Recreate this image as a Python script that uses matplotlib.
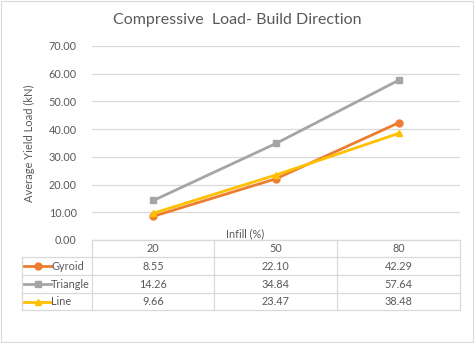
import matplotlib
matplotlib.use("Agg")
import matplotlib.pyplot as plt
from matplotlib.lines import Line2D
from matplotlib.patches import Rectangle

categories = ["20", "50", "80"]
series_names = ["Gyroid", "Triangle", "Line"]
gyroid = [8.55, 22.10, 42.29]
triangle = [14.26, 34.84, 57.64]
line = [9.66, 23.47, 38.48]
yticks = [0, 10, 20, 30, 40, 50, 60, 70]

colors = ["#ED7D31", "#A5A5A5", "#FFC000"]
markers = ["o", "s", "^"]
values = [gyroid, triangle, line]

plt.rcParams['font.family'] = ['Lato', 'DejaVu Sans']
txt = "#595959"
grid = "#D9D9D9"

W, H = 474, 343
fig = plt.figure(figsize=(W / 100, H / 100), dpi=100)
fig.patch.set_facecolor("white")

def fx(px): return px / W
def fy(py): return 1 - py / H

L, R, T, B = 92, 460, 46, 240
ax = fig.add_axes([fx(L), fy(B), fx(R) - fx(L), fy(T) - fy(B)])
x = list(range(len(categories)))
for v, c, m, n in zip(values, colors, markers, series_names):
    ax.plot(x, v, color=c, marker=m, markersize=5, linewidth=2.0, label=n,
            solid_capstyle="round", zorder=3)
ax.set_xlim(-0.5, len(categories) - 0.5)
ax.set_ylim(0, 70)
ax.set_yticks(yticks)
ax.set_yticklabels([f"{t:.2f}" for t in yticks], color=txt, fontsize=7.8)
ax.tick_params(axis="y", length=0, pad=11)
ax.set_xticks([])
ax.grid(axis="y", color=grid, linewidth=0.9)
ax.set_axisbelow(True)
for s in ax.spines.values():
    s.set_visible(False)
ax.set_ylabel("Average Yield Load (kN)", color=txt, fontsize=8, labelpad=10)

fig.text(fx(237), fy(20), "Compressive  Load- Build Direction", ha="center",
         va="center", fontsize=11.5, color=txt)
fig.text(fx(245), fy(234), "Infill (%)", ha="center", va="center",
         fontsize=7.8, color=txt)

# Table
col_x = [92, 214, 337, 460]
row_y = [240, 257, 275, 293, 310]
lc = "#D9D9D9"
lw = 0.9
fig.add_artist(Line2D([fx(92), fx(460)], [fy(240), fy(240)], color=lc, lw=lw))
for yy in row_y[1:]:
    fig.add_artist(Line2D([fx(22), fx(460)], [fy(yy), fy(yy)], color=lc, lw=lw))
for xx in col_x:
    fig.add_artist(Line2D([fx(xx), fx(xx)], [fy(240), fy(310)], color=lc, lw=lw))
fig.add_artist(Line2D([fx(22), fx(22)], [fy(257), fy(310)], color=lc, lw=lw))

for i, cat in enumerate(categories):
    cx = (col_x[i] + col_x[i + 1]) / 2
    fig.text(fx(cx), fy((row_y[0] + row_y[1]) / 2), cat, ha="center",
             va="center", fontsize=7.8, color=txt)
for r, (v, c, m, n) in enumerate(zip(values, colors, markers, series_names)):
    cy = (row_y[r + 1] + row_y[r + 2]) / 2
    for i, val in enumerate(v):
        cx = (col_x[i] + col_x[i + 1]) / 2
        fig.text(fx(cx), fy(cy), f"{val:.2f}", ha="center", va="center",
                 fontsize=7.8, color=txt)
    fig.add_artist(Line2D([fx(24), fx(51)], [fy(cy), fy(cy)], color=c, lw=2.0))
    fig.add_artist(Line2D([fx(37.5)], [fy(cy)], color=c, marker=m,
                          markersize=5, lw=0))
    fig.text(fx(51), fy(cy), n, ha="left", va="center", fontsize=7.8, color=txt)

fig.add_artist(Rectangle((0.003, 0.003), 0.994, 0.994, transform=fig.transFigure,
                         fill=False, edgecolor="#D9D9D9", lw=0.8))

fig.savefig("out.png", dpi=100, facecolor="white")
